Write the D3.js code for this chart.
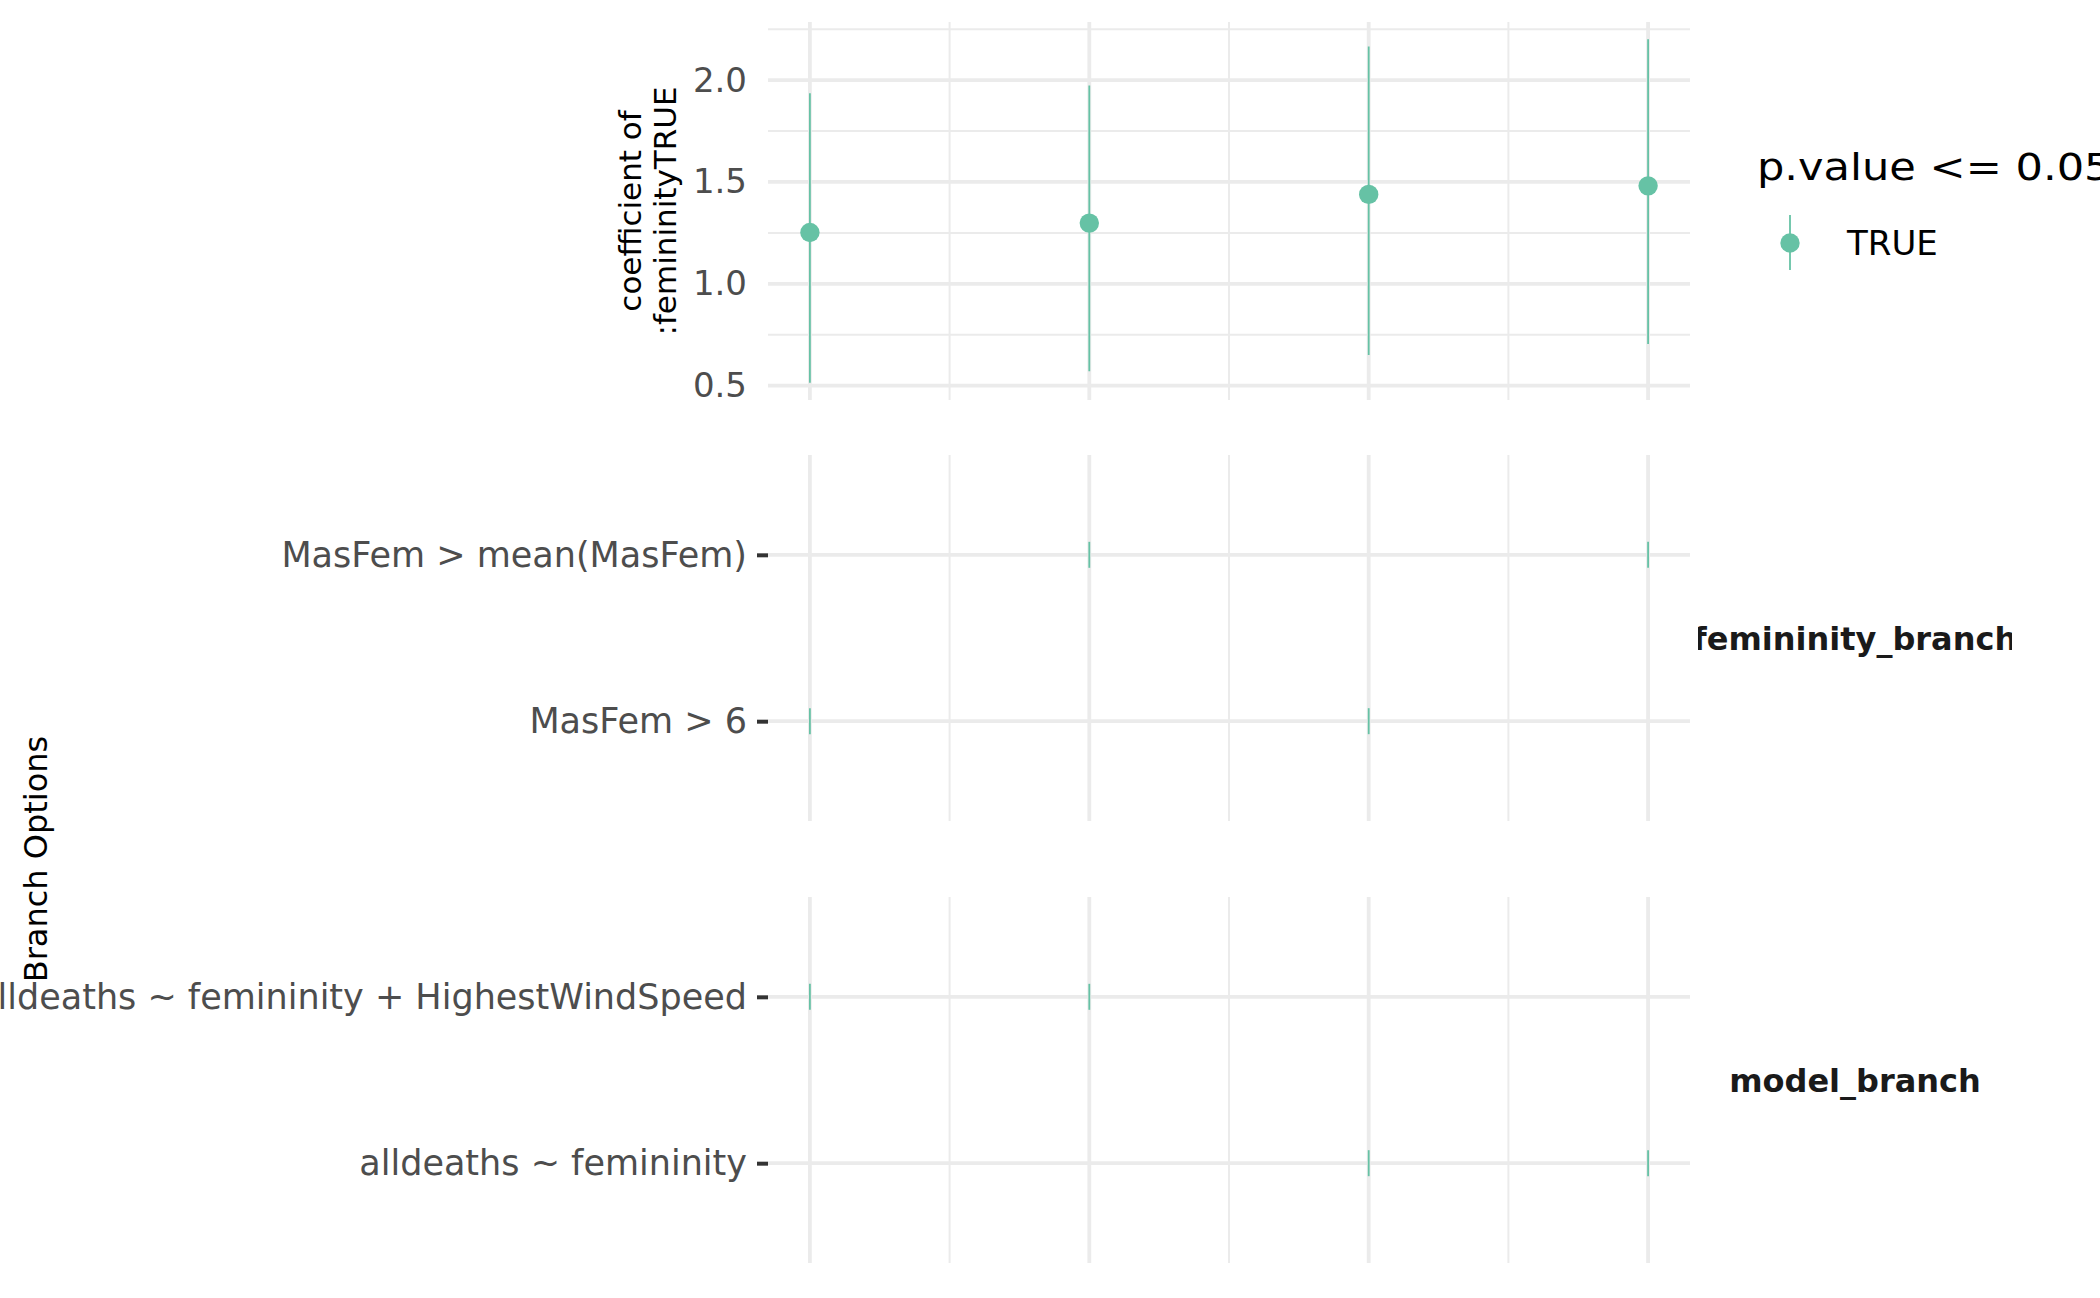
<!DOCTYPE html>
<html>
<head>
<meta charset="utf-8">
<script src="https://cdn.jsdelivr.net/npm/d3@7"></script>
<style>
  html, body { margin: 0; padding: 0; background: #fff; }
  svg { display: block; font-family: "DejaVu Sans", sans-serif; }
</style>
</head>
<body>
<div id="chart"></div>
<script>
// data ---------------------------------------------------------------------------------------
const universes = [1, 2, 3, 4];
const estimates = [1.252, 1.298, 1.439, 1.481];
const confLow = [0.514, 0.571, 0.650, 0.704];
const confHigh = [1.935, 1.974, 2.165, 2.201];
const significant = ['TRUE', 'TRUE', 'TRUE', 'TRUE'];
const coefTicks = [0.5, 1.0, 1.5, 2.0];
const universeTicks = [1, 2, 3, 4];
const femininityBranch = ['MasFem > 6', 'MasFem > mean(MasFem)', 'MasFem > 6', 'MasFem > mean(MasFem)'];
const femininityLevels = ['MasFem > 6', 'MasFem > mean(MasFem)'];
const modelBranch = [
  'alldeaths ~ femininity + HighestWindSpeed', 'alldeaths ~ femininity + HighestWindSpeed',
  'alldeaths ~ femininity', 'alldeaths ~ femininity'
];
const modelLevels = ['alldeaths ~ femininity', 'alldeaths ~ femininity + HighestWindSpeed'];

// sizes --------------------------------------------------------------------------------------
const width = 2100;
const height = 1298;
const green = '#66C2A5';
const gridCol = '#EBEBEB';
const panelX = [768, 1690];
const coefPanel = [22, 400];
const branchPanels = [
  { name: 'femininity_branch', values: femininityBranch, levels: femininityLevels, y: [455, 821] },
  { name: 'model_branch', values: modelBranch, levels: modelLevels, y: [897, 1263] }
];

const svg = d3.select('#chart').append('svg')
  .attr('width', width)
  .attr('height', height);

// x scale (shared) ---------------------------------------------------------------------------
const xExt = d3.extent(universes);
const xPad = (xExt[1] - xExt[0]) * 0.05;
const xScale = d3.scaleLinear()
  .domain([xExt[0] - xPad, xExt[1] + xPad])
  .range(panelX);
const xMinor = universeTicks.slice(1).map((d, i) => (d + universeTicks[i]) / 2);

const vGrid = (g, y0, y1) => {
  g.selectAll('.vminor').data(xMinor).enter().append('line')
    .attr('x1', d => xScale(d)).attr('x2', d => xScale(d))
    .attr('y1', y0).attr('y2', y1)
    .attr('stroke', gridCol).attr('stroke-width', 2);
  g.selectAll('.vmajor').data(universeTicks).enter().append('line')
    .attr('x1', d => xScale(d)).attr('x2', d => xScale(d))
    .attr('y1', y0).attr('y2', y1)
    .attr('stroke', gridCol).attr('stroke-width', 3.8);
};

// top panel: coefficient ---------------------------------------------------------------------
const lo = d3.min(confLow), hi = d3.max(confHigh);
const yPad = (hi - lo) * 0.05;
const yScale = d3.scaleLinear()
  .domain([lo - yPad, hi + yPad])
  .range([coefPanel[1], coefPanel[0]]);
const yStep = coefTicks[1] - coefTicks[0];
const yMinor = coefTicks.map(d => d - yStep / 2).concat([coefTicks[coefTicks.length - 1] + yStep / 2])
  .filter(d => d >= yScale.domain()[0] && d <= yScale.domain()[1]);

const coefG = svg.append('g');
coefG.selectAll('.hminor').data(yMinor).enter().append('line')
  .attr('x1', panelX[0]).attr('x2', panelX[1])
  .attr('y1', d => yScale(d)).attr('y2', d => yScale(d))
  .attr('stroke', gridCol).attr('stroke-width', 2);
coefG.selectAll('.hmajor').data(coefTicks).enter().append('line')
  .attr('x1', panelX[0]).attr('x2', panelX[1])
  .attr('y1', d => yScale(d)).attr('y2', d => yScale(d))
  .attr('stroke', gridCol).attr('stroke-width', 3.8);
vGrid(coefG, coefPanel[0], coefPanel[1]);

const coef = universes.map((u, i) => ({ u, est: estimates[i], lo: confLow[i], hi: confHigh[i], sig: significant[i] }));
coefG.selectAll('.err').data(coef).enter().append('line')
  .attr('x1', d => xScale(d.u)).attr('x2', d => xScale(d.u))
  .attr('y1', d => yScale(d.lo)).attr('y2', d => yScale(d.hi))
  .attr('stroke', green).attr('stroke-width', 1.8);
coefG.selectAll('.pt').data(coef).enter().append('circle')
  .attr('cx', d => xScale(d.u)).attr('cy', d => yScale(d.est))
  .attr('r', 9.7).attr('fill', green);

const yAxis = coefG.append('g')
  .attr('transform', 'translate(' + panelX[0] + ',0)')
  .call(d3.axisLeft(yScale).tickValues(coefTicks).tickFormat(d3.format('.1f')).tickSize(0).tickPadding(21));
yAxis.select('.domain').remove();
yAxis.selectAll('text').attr('font-size', '34px').attr('fill', '#4D4D4D').attr('font-family', 'DejaVu Sans');

// y title (two lines)
const yTitle = svg.append('text')
  .attr('transform', 'translate(641,' + ((coefPanel[0] + coefPanel[1]) / 2) + ') rotate(-90)')
  .attr('text-anchor', 'middle')
  .attr('font-size', '31px')
  .attr('fill', '#000');
yTitle.append('tspan').attr('x', 0).attr('y', 0).text('coefficient of');
yTitle.append('tspan').attr('x', 0).attr('y', 35).text(':femininityTRUE');

// legend -------------------------------------------------------------------------------------
svg.append('text')
  .attr('transform', 'translate(1757,180) scale(1.15,1)')
  .attr('font-size', '37.5px').attr('fill', '#000')
  .text('p.value <= 0.05');
const lg = svg.append('g');
lg.append('line')
  .attr('x1', 1790).attr('x2', 1790).attr('y1', 215).attr('y2', 270)
  .attr('stroke', green).attr('stroke-width', 1.8);
lg.append('circle').attr('cx', 1790).attr('cy', 243).attr('r', 9.7).attr('fill', green);
lg.append('text')
  .attr('x', 1847).attr('y', 255)
  .attr('font-size', '34px').attr('fill', '#000')
  .text(significant[0]);

// branch panels ------------------------------------------------------------------------------
svg.append('defs').append('clipPath').attr('id', 'stripClip')
  .append('rect').attr('x', 1698).attr('y', 0).attr('width', 314).attr('height', height);

branchPanels.forEach(p => {
  const g = svg.append('g');
  const bScale = d3.scalePoint()
    .domain(p.levels)
    .range([p.y[1], p.y[0]])
    .padding(0.6);
  g.selectAll('.hmajor').data(p.levels).enter().append('line')
    .attr('x1', panelX[0]).attr('x2', panelX[1])
    .attr('y1', d => bScale(d)).attr('y2', d => bScale(d))
    .attr('stroke', gridCol).attr('stroke-width', 3.8);
  vGrid(g, p.y[0], p.y[1]);

  const rows = universes.map((u, i) => ({ u, v: p.values[i] }));
  g.selectAll('.mark').data(rows).enter().append('line')
    .attr('x1', d => xScale(d.u)).attr('x2', d => xScale(d.u))
    .attr('y1', d => bScale(d.v) - 13).attr('y2', d => bScale(d.v) + 13)
    .attr('stroke', green).attr('stroke-width', 1.8);

  const ax = g.append('g')
    .attr('transform', 'translate(' + panelX[0] + ',0)')
    .call(d3.axisLeft(bScale).tickSize(11).tickPadding(10));
  ax.select('.domain').remove();
  ax.selectAll('.tick line').attr('stroke', '#333333').attr('stroke-width', 4);
  ax.selectAll('text').attr('font-size', '35px').attr('fill', '#4D4D4D').attr('font-family', 'DejaVu Sans');

  // strip label
  svg.append('text')
    .attr('clip-path', 'url(#stripClip)')
    .attr('x', 1855).attr('y', (p.y[0] + p.y[1]) / 2 + 12)
    .attr('text-anchor', 'middle')
    .attr('font-size', '32px').attr('font-weight', 'bold').attr('fill', '#1A1A1A')
    .text(p.name);
});

// shared y title
svg.append('text')
  .attr('transform', 'translate(47,' + ((branchPanels[0].y[0] + branchPanels[1].y[1]) / 2) + ') rotate(-90)')
  .attr('text-anchor', 'middle')
  .attr('font-size', '32px')
  .attr('fill', '#000')
  .text('Branch Options');
</script>
</body>
</html>
